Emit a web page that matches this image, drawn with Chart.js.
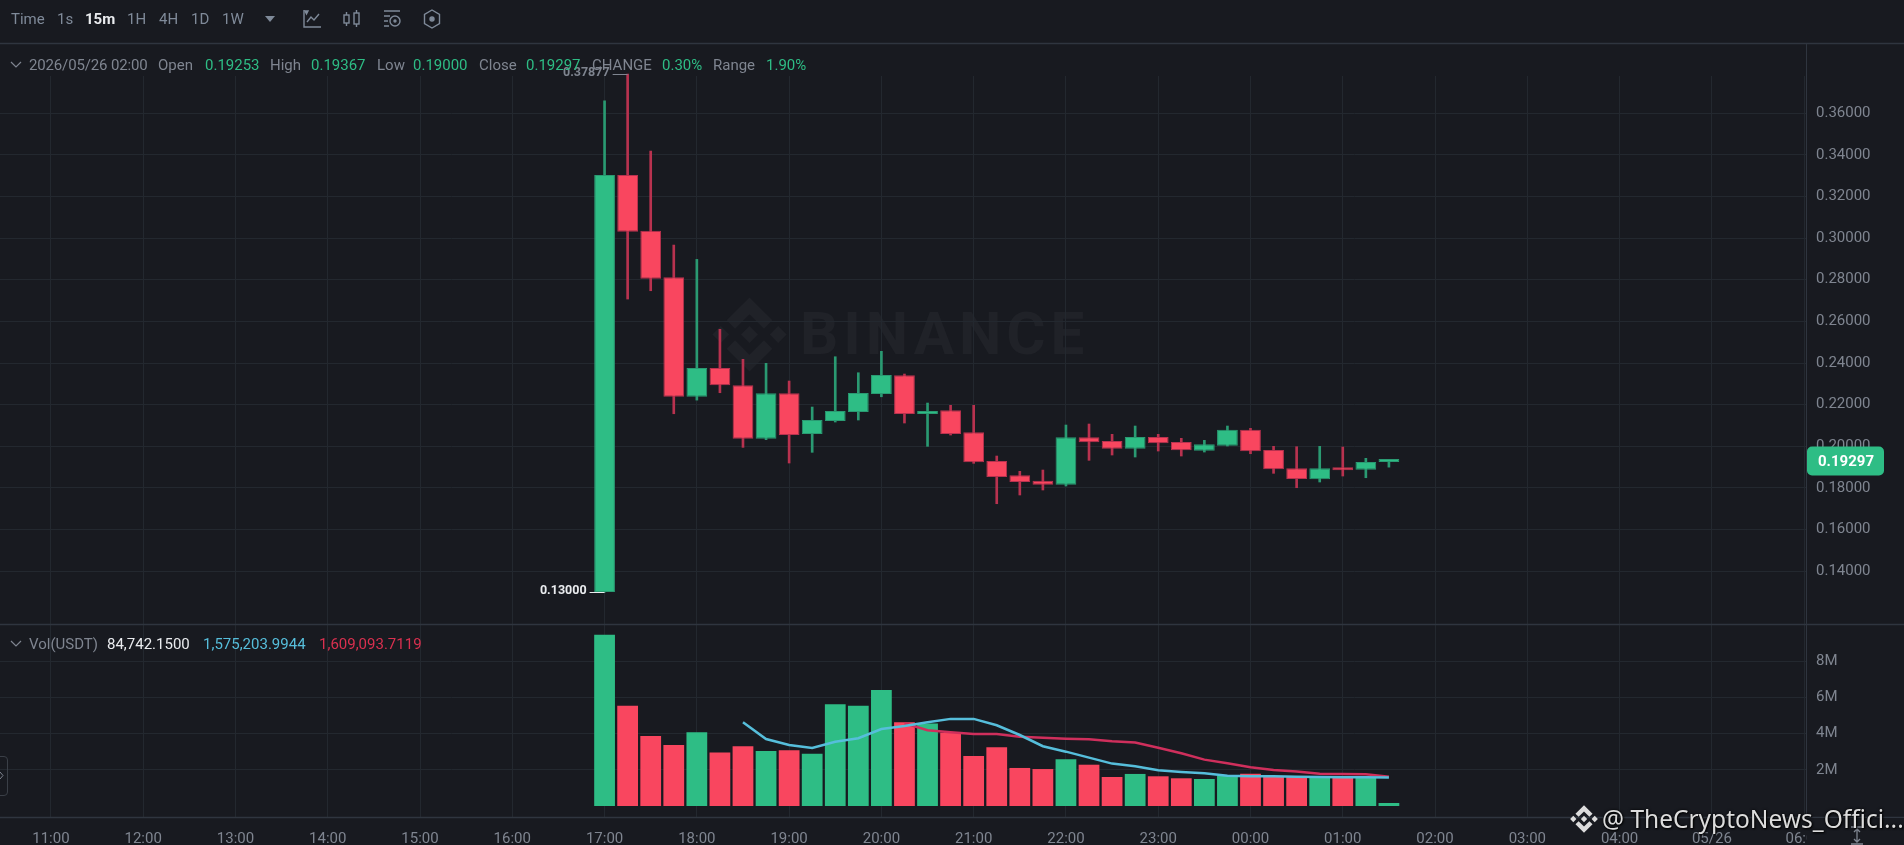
<!DOCTYPE html>
<html>
<head>
<meta charset="utf-8">
<title>Binance chart</title>
<script src="https://cdn.jsdelivr.net/npm/chart.js@4"></script>
<style>
  html, body { margin: 0; padding: 0; width: 1904px; height: 845px; overflow: hidden; background: #181a20; font-family: Roboto, sans-serif; }
  canvas { position: absolute; left: 0; top: 0; }
  .t { position: absolute; font-size: 15px; line-height: 18px; white-space: nowrap; color: #7f8590; }
  .tool { top: 10px; color: #7f8a99; }
  .head { top: 56px; }
  .vol { top: 635px; }
  .g { color: #2ebd85; }
  svg { position: absolute; }
  #watermark { position: absolute; left: 800px; top: 297px; font-size: 60px; line-height: 74px; font-weight: 700; letter-spacing: 5px; color: #202228; }
  #corner { position: absolute; left: 1807px; top: 818px; width: 97px; height: 27px; background: #181a20; }
  #tab { position: absolute; left: -6px; top: 756px; width: 12px; height: 38px; border: 1px solid #3a3f47; border-radius: 4px; }
  #credit { position: absolute; left: 1602px; top: 802px; font-family: "Noto Sans", sans-serif; font-size: 24.5px; line-height: 34px; color: #dcdcdc; text-shadow: 0 0 3px #000, 1px 1px 2px #000; white-space: nowrap; }
</style>
</head>
<body>
<svg style="left:712px;top:297px" width="75" height="75" viewBox="0 0 126 126"><path fill="#202228" d="M38.73 53.2L63 28.93l24.28 24.28 14.12-14.12L63 .68 24.61 39.07zM.68 63l14.12-14.12L28.92 63 14.8 77.12zM38.73 72.8L63 97.07l24.28-24.28 14.13 14.1L63 125.32 24.61 86.94zM97.08 63l14.12-14.12L125.32 63 111.2 77.12zM77.32 63L63 48.68 52.41 59.27l-1.22 1.22-2.51 2.51L63 77.32z"/></svg>
<div id="watermark">BINANCE</div>

<canvas id="chart" width="1904" height="845"></canvas>

<!-- toolbar -->
<span class="t tool" style="left:11px">Time</span>
<span class="t tool" style="left:57px">1s</span>
<span class="t tool" style="left:85px;color:#eaecef;font-weight:700">15m</span>
<span class="t tool" style="left:127px">1H</span>
<span class="t tool" style="left:159px">4H</span>
<span class="t tool" style="left:191px">1D</span>
<span class="t tool" style="left:222px">1W</span>
<svg style="left:265px;top:15px" width="10" height="8"><path d="M0 1h10L5 7z" fill="#7f8a99"/></svg>
<svg style="left:302px;top:9px" width="20" height="20" fill="none" stroke="#7f8a99" stroke-width="1.4"><path d="M2 1v17h17M5 13l4-5 3 3 5-6"/><path d="M3 2l3 0-1.500 3z" fill="#7f8a99"/></svg>
<svg style="left:342px;top:9px" width="20" height="20" fill="none" stroke="#7f8a99" stroke-width="1.4"><rect x="2" y="6" width="5" height="8"/><rect x="12" y="4" width="5" height="11"/><path d="M4.500 3v3M4.500 14v3M14.500 1v3M14.500 15v3"/></svg>
<svg style="left:382px;top:9px" width="20" height="20" fill="none" stroke="#7f8a99" stroke-width="1.4"><path d="M2 2h16M2 7h6M2 12h4M2 17h5"/><circle cx="13" cy="12" r="5"/><circle cx="13" cy="12" r="1" fill="#7f8a99"/></svg>
<svg style="left:422px;top:9px" width="20" height="20" fill="none" stroke="#7f8a99" stroke-width="1.4"><path d="M10 1l7.500 4.500v9L10 19l-7.500-4.500v-9z"/><circle cx="10" cy="10" r="2" fill="#7f8a99"/></svg>

<!-- price header -->
<svg style="left:10px;top:61px" width="12" height="8" fill="none" stroke="#7f8590" stroke-width="1.2"><path d="M1 1l5 5 5-5"/></svg>
<span class="t head" style="left:29px;letter-spacing:-0.15px">2026/05/26 02:00</span>
<span class="t head" style="left:158px">Open</span><span class="t head g" style="left:205px">0.19253</span>
<span class="t head" style="left:270px">High</span><span class="t head g" style="left:311px">0.19367</span>
<span class="t head" style="left:377px">Low</span><span class="t head g" style="left:413px">0.19000</span>
<span class="t head" style="left:479px">Close</span><span class="t head g" style="left:526px">0.19297</span>
<span class="t head" style="left:592px">CHANGE</span><span class="t head g" style="left:662px">0.30%</span>
<span class="t head" style="left:713px">Range</span><span class="t head g" style="left:766px">1.90%</span>

<!-- volume header -->
<svg style="left:10px;top:640px" width="12" height="8" fill="none" stroke="#7f8590" stroke-width="1.2"><path d="M1 1l5 5 5-5"/></svg>
<span class="t vol" style="left:29px">Vol(USDT)</span>
<span class="t vol" style="left:107px;color:#eaecef">84,742.1500</span>
<span class="t vol" style="left:203px;color:#56bedb">1,575,203.9944</span>
<span class="t vol" style="left:319px;color:#d9304f">1,609,093.7119</span>

<div id="tab"></div>
<svg style="left:0;top:771px" width="5" height="9" fill="none" stroke="#7f8590"><path d="M0 1l3 3.500-3 3.500"/></svg>
<div id="corner"></div>
<svg style="left:1849px;top:826px" width="16" height="19" fill="none" stroke="#7f8590" stroke-width="1.3"><path d="M2 1h12M2 18h12M8 3v13M5 6l3-3 3 3M5 13l3 3 3-3"/></svg>

<svg style="left:1570px;top:805px" width="28" height="28" viewBox="0 0 126 126"><path fill="#dcdcdc" d="M38.73 53.2L63 28.93l24.28 24.28 14.12-14.12L63 .68 24.61 39.07zM.68 63l14.12-14.12L28.92 63 14.8 77.12zM38.73 72.8L63 97.07l24.28-24.28 14.13 14.1L63 125.32 24.61 86.94zM97.08 63l14.12-14.12L125.32 63 111.2 77.12zM77.32 63L63 48.68 52.41 59.27l-1.22 1.22-2.51 2.51L63 77.32z"/></svg>
<div id="credit">@ TheCryptoNews_Offici...</div>

<script>
// candles. index 0 is the 17:00 candle, one step is 15 min
const opens  = [0.13000, 0.33030, 0.30350, 0.28115, 0.22380, 0.23760, 0.22930, 0.20365, 0.22545, 0.20590, 0.21215, 0.21647, 0.22511, 0.23409, 0.21551, 0.21729, 0.20672, 0.19294, 0.18607, 0.18348, 0.18156, 0.20432, 0.20254, 0.19885, 0.20447, 0.20206, 0.19789, 0.20029, 0.20797, 0.19822, 0.18944, 0.18415, 0.18944, 0.18877, 0.19253];
const closes = [0.33030, 0.30305, 0.28048, 0.22382, 0.23760, 0.22930, 0.20365, 0.22545, 0.20543, 0.21263, 0.21695, 0.22559, 0.23424, 0.21551, 0.21695, 0.20591, 0.19232, 0.18526, 0.18286, 0.18156, 0.20432, 0.20192, 0.19885, 0.20447, 0.20144, 0.19808, 0.20096, 0.20797, 0.19760, 0.18895, 0.18430, 0.18944, 0.18848, 0.19246, 0.19297];
const highs  = [0.36595, 0.37877, 0.34180, 0.29666, 0.28978, 0.25618, 0.24178, 0.23986, 0.23136, 0.21887, 0.24303, 0.23534, 0.24562, 0.23472, 0.22079, 0.21969, 0.21969, 0.19534, 0.18800, 0.18862, 0.21023, 0.21071, 0.20576, 0.20975, 0.20576, 0.20384, 0.20288, 0.20975, 0.20864, 0.20000, 0.19981, 0.20000, 0.19966, 0.19424, 0.19367];
const lows   = [0.13000, 0.27073, 0.27472, 0.21565, 0.22220, 0.22574, 0.19950, 0.20320, 0.19198, 0.19712, 0.21167, 0.21263, 0.22380, 0.21119, 0.20000, 0.20543, 0.19184, 0.17244, 0.17662, 0.17902, 0.18094, 0.19328, 0.19582, 0.19486, 0.19774, 0.19534, 0.19726, 0.20014, 0.19645, 0.18703, 0.18012, 0.18286, 0.18574, 0.18492, 0.19000];

// volume in USDT plus the two moving averages (null where the line has not started)
const volumes = [9.45e6, 5.54e6, 3.87e6, 3.37e6, 4.07e6, 2.96e6, 3.30e6, 3.04e6, 3.08e6, 2.89e6, 5.62e6, 5.54e6, 6.41e6, 4.62e6, 4.55e6, 4.05e6, 2.76e6, 3.24e6, 2.10e6, 2.04e6, 2.58e6, 2.28e6, 1.60e6, 1.77e6, 1.64e6, 1.53e6, 1.49e6, 1.67e6, 1.78e6, 1.62e6, 1.62e6, 1.62e6, 1.60e6, 1.60e6, 84742.15];
const maBlue = [null, null, null, null, null, null, 4.62e6, 3.70e6, 3.37e6, 3.20e6, 3.55e6, 3.74e6, 4.25e6, 4.42e6, 4.62e6, 4.81e6, 4.81e6, 4.46e6, 3.92e6, 3.30e6, 3.00e6, 2.67e6, 2.34e6, 2.19e6, 1.97e6, 1.88e6, 1.81e6, 1.67e6, 1.64e6, 1.64e6, 1.62e6, 1.60e6, 1.59e6, 1.59e6, 1575203.99];
const maRed  = [null, null, null, null, null, null, null, null, null, null, null, null, null, 4.57e6, 4.18e6, 4.07e6, 3.98e6, 3.98e6, 3.83e6, 3.77e6, 3.72e6, 3.68e6, 3.57e6, 3.50e6, 3.22e6, 2.91e6, 2.56e6, 2.36e6, 2.14e6, 1.99e6, 1.90e6, 1.78e6, 1.77e6, 1.75e6, 1609093.71];

// axis ticks
const timeLabels = ['11:00', '12:00', '13:00', '14:00', '15:00', '16:00', '17:00', '18:00', '19:00', '20:00', '21:00', '22:00', '23:00', '00:00', '01:00', '02:00', '03:00', '04:00', '05/26', '06:00'];
const priceTicks = [0.14, 0.16, 0.18, 0.20, 0.22, 0.24, 0.26, 0.28, 0.30, 0.32, 0.34, 0.36];
const volumeTicks = [2e6, 4e6, 6e6, 8e6];
const lastPrice = 0.19297;

const GREEN = '#2ebd85', RED = '#f9465f';
const GREEN_DIM = '#2a9a72', RED_DIM = '#b8324f';
const GRID = '#23282f', AXIS = '#2f353f', TEXT = '#7f8590';
const FONT = { family: 'Roboto', size: 15 };

const slots = opens.map((_, i) => i);
const up = i => closes[i] >= opens[i];
const pick = (a, b) => ctx => up(ctx.dataIndex) ? a : b;

// pane separators, the masked header row and the labels that hang off the scales
const overlay = {
  id: 'overlay',
  beforeDatasetsDraw(chart) {
    const c = chart.ctx;
    c.fillStyle = '#181a20';
    c.fillRect(0, 44, chart.chartArea.right, 32);
  },
  afterDraw(chart) {
    const c = chart.ctx, sx = chart.scales.x, sy = chart.scales.y, sv = chart.scales.yVol;
    c.save();
    c.strokeStyle = AXIS;
    c.lineWidth = 1.5;
    [43.5, sv.top + 0.5, sv.bottom + 0.5].forEach(y => {
      c.beginPath(); c.moveTo(0, y); c.lineTo(1904, y); c.stroke();
    });

    // high and low markers
    c.font = '700 12.500px Roboto';
    c.textAlign = 'right';
    c.textBaseline = 'middle';
    const marks = [[1, Math.max(...highs), '#7f8590'], [0, Math.min(...lows), '#eaecef']];
    marks.forEach(([i, v, col]) => {
      const x = sx.getPixelForValue(i), y = Math.round(sy.getPixelForValue(v));
      c.fillStyle = col;
      c.fillRect(x - 15, y, 15, 1);
      c.fillText(v.toFixed(5), x - 18, y - 1);
    });

    // last price badge
    const y = sy.getPixelForValue(lastPrice);
    c.fillStyle = GREEN;
    c.beginPath();
    c.roundRect(1807, y - 14.500, 77, 29, 5);
    c.fill();
    c.fillStyle = '#fff';
    c.font = '700 15px Roboto';
    c.textAlign = 'center';
    c.fillText(lastPrice.toFixed(5), 1846, y + 1);
    c.restore();
  }
};

new Chart(document.getElementById('chart'), {
  data: {
    datasets: [
      {
        type: 'bar', yAxisID: 'y', order: 3, grouped: false, barThickness: 2,
        data: slots.map(i => ({ x: i, y: [lows[i], highs[i]] })),
        backgroundColor: pick(GREEN_DIM, RED_DIM)
      },
      {
        type: 'bar', yAxisID: 'y', order: 2, grouped: false, barPercentage: 0.9, categoryPercentage: 1, minBarLength: 3,
        data: slots.map(i => ({ x: i, y: [opens[i], closes[i]] })),
        backgroundColor: pick(GREEN, RED),
        borderColor: pick(GREEN_DIM, RED_DIM), borderWidth: 1, borderSkipped: false
      },
      {
        type: 'bar', yAxisID: 'yVol', order: 2, grouped: false, barPercentage: 0.9, categoryPercentage: 1, minBarLength: 3,
        data: slots.map(i => ({ x: i, y: volumes[i] })),
        backgroundColor: pick(GREEN, RED)
      },
      {
        type: 'line', yAxisID: 'yVol', order: 0,
        data: slots.map(i => ({ x: i, y: maBlue[i] })),
        borderColor: '#56bedb', borderWidth: 2.5, pointRadius: 0, tension: 0
      },
      {
        type: 'line', yAxisID: 'yVol', order: 1,
        data: slots.map(i => ({ x: i, y: maRed[i] })),
        borderColor: '#cf2f5c', borderWidth: 2.5, pointRadius: 0, tension: 0
      }
    ]
  },
  options: {
    responsive: false,
    animation: false,
    devicePixelRatio: 1,
    layout: { padding: { top: 43 } },
    plugins: { legend: { display: false }, tooltip: { enabled: false } },
    scales: {
      x: {
        type: 'linear', offset: false, min: -26.207, max: 52.08,
        afterBuildTicks: axis => { axis.ticks = timeLabels.map((_, i) => ({ value: -24 + i * 4 })); },
        afterFit: axis => { axis.height = 28; },
        border: { display: false },
        grid: { color: GRID, tickLength: 0, offset: false },
        ticks: {
          color: TEXT, font: FONT, padding: 13, maxRotation: 0, autoSkip: false,
          callback: v => timeLabels[(v + 24) / 4]
        }
      },
      y: {
        type: 'linear', position: 'right', stack: 'panes', stackWeight: 581, weight: 1,
        min: 0.11467, max: 0.3937,
        afterBuildTicks: axis => { axis.ticks = priceTicks.map(v => ({ value: v })); },
        afterFit: axis => { axis.width = 98; },
        border: { color: AXIS },
        grid: { color: GRID, tickLength: 0 },
        ticks: { color: TEXT, font: FONT, padding: 10, callback: v => v.toFixed(5) }
      },
      yVol: {
        type: 'linear', position: 'right', stack: 'panes', stackWeight: 193, weight: 2,
        min: -608000, max: 10050000,
        afterBuildTicks: axis => { axis.ticks = volumeTicks.map(v => ({ value: v })); },
        afterFit: axis => { axis.width = 98; },
        border: { color: AXIS },
        grid: { color: GRID, tickLength: 0 },
        ticks: { color: TEXT, font: FONT, padding: 10, callback: v => (v / 1e6) + 'M' }
      }
    }
  },
  plugins: [overlay]
});
</script>
</body>
</html>
